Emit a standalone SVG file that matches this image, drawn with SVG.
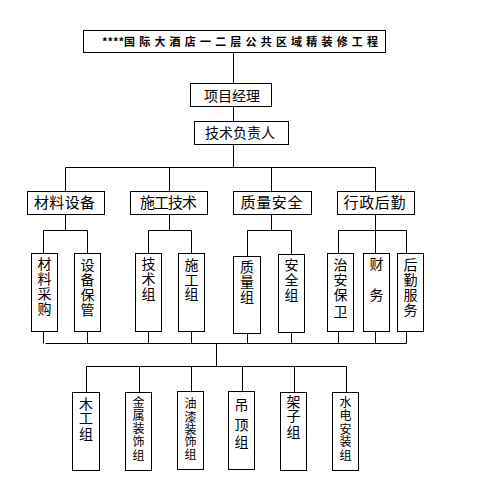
<svg xmlns="http://www.w3.org/2000/svg" width="481" height="485" viewBox="0 0 481 485">
<style>
  rect.box { fill: #ffffff; stroke: #000000; stroke-width: 1; }
  .conn path { fill: none; stroke: #000000; stroke-width: 1; }
  text { font-family: "Noto Sans CJK SC", "Liberation Sans", sans-serif; fill: #000000; }
  .t15 { font-size: 15px; }
  .t14 { font-size: 14px; }
  .t12 { font-size: 12px; }
  .v { writing-mode: vertical-rl; text-orientation: upright; }
  .title { font-size: 11px; font-weight: bold; }
</style>
<rect x="0" y="0" width="481" height="485" fill="#ffffff"/>

<g class="conn" id="connectors">
  <path d="M233.5 52.5V83.5 M233.5 106.5V121.5 M233.5 144.5V167.5"/>
  <path d="M65.5 167.5H375.5 M65.5 167.5V191.5 M169.5 167.5V191.5 M271.5 167.5V191.5 M375.5 167.5V191.5"/>
  <path d="M65.5 214.5V230.5 M169.5 214.5V230.5 M271.5 214.5V230.5 M375.5 214.5V230.5"/>
  <path d="M43.5 230.5H87.5 M148.5 230.5H191.5 M247.5 230.5H291.5 M338.5 230.5H406.5"/>
  <path d="M43.5 230.5V253.5 M87.5 230.5V253.5 M148.5 230.5V253.5 M191.5 230.5V253.5 M247.5 230.5V256.5 M291.5 230.5V254.5 M338.5 230.5V253.5 M375.5 230.5V253.5 M406.5 230.5V253.5"/>
  <path d="M43.5 331.5V343.5 M87.5 331.5V343.5 M148.5 331.5V343.5 M191.5 331.5V343.5 M247.5 333.5V343.5 M291.5 332.5V343.5 M338.5 331.5V343.5 M375.5 331.5V343.5 M406.5 331.5V343.5"/>
  <path d="M45.5 343.5H406.5 M216.5 343.5V366.5 M86.5 366.5H346.5"/>
  <path d="M86.5 366.5V392.5 M139.5 366.5V392.5 M191.5 366.5V391.5 M242.5 366.5V391.5 M294.5 366.5V392.5 M346.5 366.5V392.5"/>
</g>

<g id="project">
  <rect class="box" x="83.5" y="30.5" width="302" height="22"/>
  <text class="title" y="46"><tspan x="102" textLength="22" lengthAdjust="spacing">****</tspan><tspan x="124" textLength="254" lengthAdjust="spacing">国际大酒店一二层公共区域精装修工程</tspan></text>
</g>

<g id="manager">
  <rect class="box" x="190.5" y="83.5" width="81" height="23"/>
  <text class="t14" x="204" y="100.5">项目经理</text>
</g>

<g id="tech-lead">
  <rect class="box" x="194.5" y="121.5" width="94" height="23"/>
  <text class="t14" x="205" y="137.5">技术负责人</text>
</g>

<g id="materials">
  <rect class="box" x="27.5" y="191.5" width="77" height="23"/>
  <text class="t15" x="34" y="208" textLength="61" lengthAdjust="spacing">材料设备</text>
</g>
<g id="construction">
  <rect class="box" x="130.5" y="191.5" width="77" height="23"/>
  <text class="t15" x="140" y="208" textLength="57" lengthAdjust="spacing">施工技术</text>
</g>
<g id="quality">
  <rect class="box" x="233.5" y="191.5" width="78" height="23"/>
  <text class="t15" x="240.5" y="208" textLength="62" lengthAdjust="spacing">质量安全</text>
</g>
<g id="admin">
  <rect class="box" x="337.5" y="191.5" width="77" height="23"/>
  <text class="t15" x="343.5" y="208" textLength="62" lengthAdjust="spacing">行政后勤</text>
</g>

<g id="purchasing">
  <rect class="box" x="31.5" y="253.5" width="26" height="78"/>
  <text class="t14 v"><tspan x="44.5" y="257">材</tspan><tspan x="44.5" y="272">料</tspan><tspan x="44.5" y="287">采</tspan><tspan x="44.5" y="302">购</tspan></text>
</g>
<g id="storage">
  <rect class="box" x="74.5" y="253.5" width="26" height="78"/>
  <text class="t14 v"><tspan x="87.5" y="257.5">设</tspan><tspan x="87.5" y="273">备</tspan><tspan x="87.5" y="288">保</tspan><tspan x="87.5" y="303">管</tspan></text>
</g>
<g id="tech-group">
  <rect class="box" x="135.5" y="253.5" width="26" height="78"/>
  <text class="t14 v"><tspan x="148.5" y="257">技</tspan><tspan x="148.5" y="272">术</tspan><tspan x="148.5" y="286.5">组</tspan></text>
</g>
<g id="build-group">
  <rect class="box" x="178.5" y="253.5" width="26" height="78"/>
  <text class="t14 v"><tspan x="191.5" y="258">施</tspan><tspan x="191.5" y="272.5">工</tspan><tspan x="191.5" y="287">组</tspan></text>
</g>
<g id="quality-group">
  <rect class="box" x="233.5" y="256.5" width="27" height="77"/>
  <text class="t14 v"><tspan x="247" y="260">质</tspan><tspan x="247" y="274.7">量</tspan><tspan x="247" y="289.7">组</tspan></text>
</g>
<g id="safety-group">
  <rect class="box" x="278.5" y="254.5" width="26" height="78"/>
  <text class="t14 v"><tspan x="291.5" y="258">安</tspan><tspan x="291.5" y="273">全</tspan><tspan x="291.5" y="287.5">组</tspan></text>
</g>
<g id="security">
  <rect class="box" x="327.5" y="253.5" width="26" height="78"/>
  <text class="t14 v"><tspan x="340.5" y="258">治</tspan><tspan x="340.5" y="273">安</tspan><tspan x="340.5" y="288">保</tspan><tspan x="340.5" y="304.5">卫</tspan></text>
</g>
<g id="finance">
  <rect class="box" x="363.5" y="253.5" width="26" height="78"/>
  <text class="t14 v"><tspan x="376.5" y="257">财</tspan><tspan x="376.5" y="288">务</tspan></text>
</g>
<g id="logistics">
  <rect class="box" x="397.5" y="253.5" width="26" height="78"/>
  <text class="t14 v"><tspan x="410.5" y="257.5">后</tspan><tspan x="410.5" y="273">勤</tspan><tspan x="410.5" y="288">服</tspan><tspan x="410.5" y="303">务</tspan></text>
</g>

<g id="carpentry">
  <rect class="box" x="72.5" y="392.5" width="27" height="78"/>
  <text class="t14 v"><tspan x="86" y="396.3">木</tspan><tspan x="86" y="411">工</tspan><tspan x="86" y="426.3">组</tspan></text>
</g>
<g id="metal">
  <rect class="box" x="125.5" y="392.5" width="26" height="78"/>
  <text class="t12 v"><tspan x="138.5" y="396.2">金</tspan><tspan x="138.5" y="409.3">属</tspan><tspan x="138.5" y="422.3">装</tspan><tspan x="138.5" y="435.7">饰</tspan><tspan x="138.5" y="449.2">组</tspan></text>
</g>
<g id="paint">
  <rect class="box" x="177.5" y="391.5" width="26" height="78"/>
  <text class="t12 v"><tspan x="190.5" y="397.3">油</tspan><tspan x="190.5" y="411.5">漆</tspan><tspan x="190.5" y="423.7">装</tspan><tspan x="190.5" y="435.9">饰</tspan><tspan x="190.5" y="448.2">组</tspan></text>
</g>
<g id="ceiling">
  <rect class="box" x="228.5" y="391.5" width="26" height="78"/>
  <text class="t14 v"><tspan x="241.5" y="398">吊</tspan><tspan x="241.5" y="418">顶</tspan><tspan x="241.5" y="434.7">组</tspan></text>
</g>
<g id="scaffold">
  <rect class="box" x="280.5" y="392.5" width="26" height="78"/>
  <text class="t14 v"><tspan x="293.5" y="394.7">架</tspan><tspan x="293.5" y="408.8">子</tspan><tspan x="293.5" y="424.7">组</tspan></text>
</g>
<g id="mep">
  <rect class="box" x="332.5" y="392.5" width="26" height="78"/>
  <text class="t12 v"><tspan x="345.5" y="396.5">水</tspan><tspan x="345.5" y="409.8">电</tspan><tspan x="345.5" y="423.2">安</tspan><tspan x="345.5" y="435.7">装</tspan><tspan x="345.5" y="449.5">组</tspan></text>
</g>
</svg>
